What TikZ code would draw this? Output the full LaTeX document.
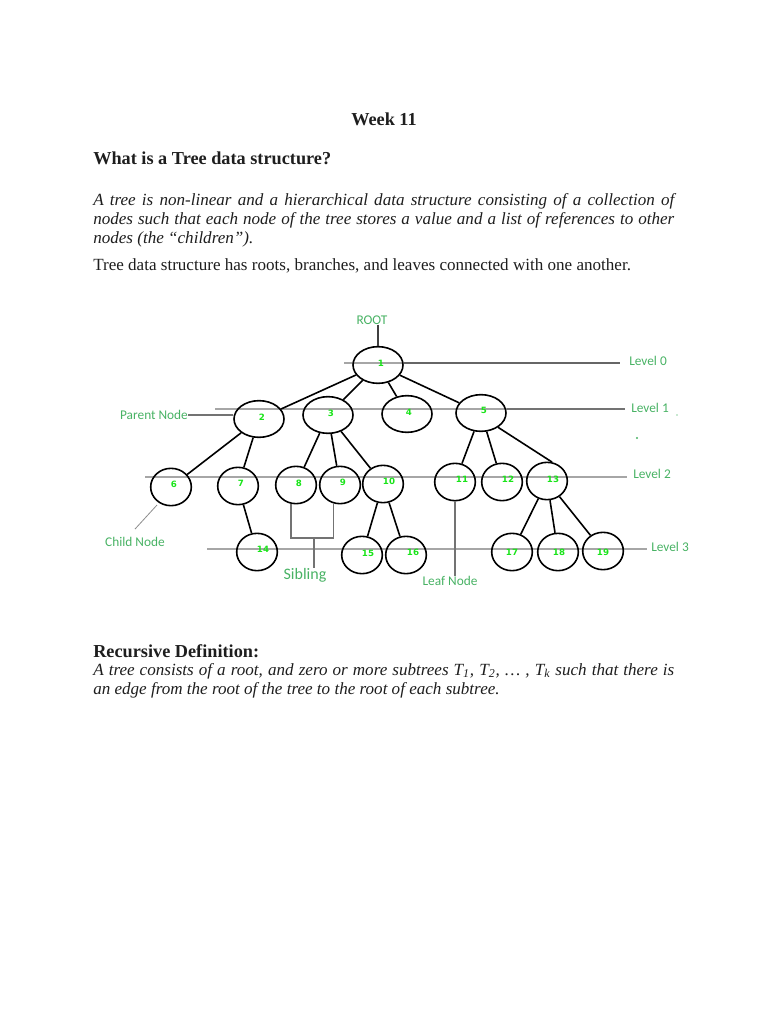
\documentclass[tikz,border=0pt]{standalone}
\usepackage{fontspec}
\setmainfont{Liberation Serif}
\newfontfamily\tagfont{Carlito}
\newfontfamily\numfont{DejaVu Sans}
\usepackage{xcolor}
\usetikzlibrary{shapes.geometric}

\definecolor{taggreen}{RGB}{72,178,100}
\definecolor{numgreen}{RGB}{25,228,25}
\definecolor{ink}{RGB}{30,30,30}

\tikzset{
  vtx/.style={draw, ellipse, line width=1.2pt, inner sep=0pt},
  bigvtx/.style={vtx, minimum width=37.5pt, minimum height=27.5pt},
  smallvtx/.style={vtx, minimum width=30.5pt, minimum height=28pt},
  num/.style={text=numgreen, font=\numfont\bfseries\fontsize{6.5}{7}\selectfont, inner sep=0pt},
  tag/.style={text=taggreen, font=\tagfont\fontsize{10}{12}\selectfont, inner sep=0pt},
  edge/.style={line width=1.2pt},
  lvl/.style={black!35, line width=0.8pt},
  lvldark/.style={black!60, line width=1.3pt},
  callout/.style={black!55, line width=0.9pt},
  para/.style={text=ink, inner sep=0pt, text width=435.75pt, align=justify,
    font=\itshape\fontsize{12.8}{14.25}\selectfont},
  plain/.style={text=ink, inner sep=0pt, font=\fontsize{12.8}{14.25}\selectfont},
  head/.style={text=ink, inner sep=0pt, font=\bfseries\fontsize{13.7}{15}\selectfont}
}

\begin{document}
\begin{tikzpicture}[x=0.75pt, y=-0.75pt]
  \useasboundingbox (0,0) rectangle (768,1024);

  % page text
  \node[head, anchor=base] (week) at (384,125) {Week 11};
  \node[head, anchor=base west] (what) at (93,164) {What is a Tree data structure?};
  \node[para, anchor=base west] (def) at (93,205) {A tree is non-linear and a hierarchical data structure consisting of a collection of\linebreak nodes such that each node of the tree stores a value and a list of references to other\linebreak nodes (the “children”).};
  \node[plain, anchor=base west] (has) at (93,270) {Tree data structure has roots, branches, and leaves connected with one another.};

  % level lines
  \node[tag, anchor=west] (lv0) at (629,361) {Level 0};
  \node[tag, anchor=west] (lv1) at (631,408) {Level 1};
  \node[tag, anchor=west] (lv2) at (633,474) {Level 2};
  \node[tag, anchor=west] (lv3) at (651,547) {Level 3};
  \coordinate (l0a) at (344,363); \coordinate (l0b) at (620,363);
  \coordinate (l1a) at (215,409); \coordinate (l1b) at (625,409);
  \coordinate (l2a) at (145,477); \coordinate (l2b) at (627,477);
  \coordinate (l3a) at (207,549); \coordinate (l3b) at (647,549);
  \draw[lvl] (l0a) -- (l0b);
  \draw[lvl] (l1a) -- (l1b);
  \draw[lvl] (l2a) -- (l2b);
  \draw[lvl] (l3a) -- (l3b);

  % tree nodes
  \node[bigvtx] (n1) at (378,365) {};   \node[num] (t1) at (381,363) {1};
  \node[bigvtx] (n2) at (259,419) {};   \node[num] (t2) at (262,417) {2};
  \node[bigvtx] (n3) at (328,415) {};   \node[num] (t3) at (331,413) {3};
  \node[bigvtx] (n4) at (407,414) {};   \node[num] (t4) at (409,412) {4};
  \node[bigvtx] (n5) at (481,413) {};   \node[num] (t5) at (484,410) {5};
  \node[smallvtx] (n6) at (171,487) {};  \node[num] (t6) at (174,484) {6};
  \node[smallvtx] (n7) at (238,486) {};  \node[num] (t7) at (241,483) {7};
  \node[smallvtx] (n8) at (296,485) {};  \node[num] (t8) at (299,483) {8};
  \node[smallvtx] (n9) at (340,485) {};  \node[num] (t9) at (343,482) {9};
  \node[smallvtx] (n10) at (383,484) {}; \node[num] (t10) at (389,481) {10};
  \node[smallvtx] (n11) at (455,482) {}; \node[num] (t11) at (462,479) {11};
  \node[smallvtx] (n12) at (502,482) {}; \node[num] (t12) at (508,479) {12};
  \node[smallvtx] (n13) at (547,481) {}; \node[num] (t13) at (553,479) {13};
  \node[smallvtx] (n14) at (257,552) {}; \node[num] (t14) at (263,549) {14};
  \node[smallvtx] (n15) at (362,555) {}; \node[num] (t15) at (368,553) {15};
  \node[smallvtx] (n16) at (406,555) {}; \node[num] (t16) at (413,552) {16};
  \node[smallvtx] (n17) at (512,552) {}; \node[num] (t17) at (512,552) {17};
  \node[smallvtx] (n18) at (558,552) {}; \node[num] (t18) at (559,552) {18};
  \node[smallvtx] (n19) at (603,551) {}; \node[num] (t19) at (603,552) {19};

  \draw[lvldark] (n1.east |- l0a) -- (l0b);
  \draw[black!55, line width=1pt] (n5.east |- l1a) -- (l1b);

  % branches
  \draw[edge] (n1) -- (n2);
  \draw[edge] (n1) -- (n3);
  \draw[edge] (n1) -- (n4);
  \draw[edge] (n1) -- (n5);
  \draw[edge] (n2) -- (n6);
  \draw[edge] (n2) -- (n7);
  \draw[edge] (n3) -- (n8);
  \draw[edge] (n3) -- (n9);
  \draw[edge] (n3) -- (n10);
  \draw[edge] (n5) -- (n11);
  \draw[edge] (n5) -- (n12);
  \draw[edge] (n5.-40) -- (n13.75);
  \draw[edge] (n7) -- (n14);
  \draw[edge] (n10) -- (n15);
  \draw[edge] (n10) -- (n16);
  \draw[edge] (n13) -- (n17);
  \draw[edge] (n13) -- (n18);
  \draw[edge] (n13) -- (n19);

  % call-outs
  \node[tag] (roottag) at (372,320) {ROOT};
  \draw[callout, black!75] (n1.north |- roottag.south) -- (n1.north);
  \node[tag] (parenttag) at (154,415) {Parent Node};
  \draw[callout] (parenttag.east) -- (parenttag.east -| n2.west);
  \node[tag] (childtag) at (135,542) {Child Node};
  \coordinate (c6) at (157,505);
  \draw[callout, black!45, line width=0.6pt] ([yshift=6pt]childtag.north) -- (c6);
  \node[tag, font=\tagfont\fontsize{12}{14}\selectfont] (sibtag) at (305,575) {Sibling};
  \coordinate (brk) at (314,538);
  \draw[callout] (n8.255) |- (brk) -| (n9.250);
  \draw[callout] (brk) -- (brk |- sibtag.north);
  \node[tag] (leaftag) at (450,581) {Leaf Node};
  \draw[callout] (n11.south) -- (n11.south |- leaftag.north);

  % stray marks
  \fill[taggreen] (637,438) circle (0.8pt);
  \fill[taggreen!60] (677,415) circle (0.6pt);

  % recursive definition
  \node[head, anchor=base west] (rec) at (93,657) {Recursive Definition:};
  \node[para, anchor=base west] (recdef) at (93,675) {A tree consists of a root, and zero or more subtrees T\textsubscript{1}, T\textsubscript{2}, … , T\textsubscript{k} such that there is\linebreak an edge from the root of the tree to the root of each subtree.};
\end{tikzpicture}
\end{document}
